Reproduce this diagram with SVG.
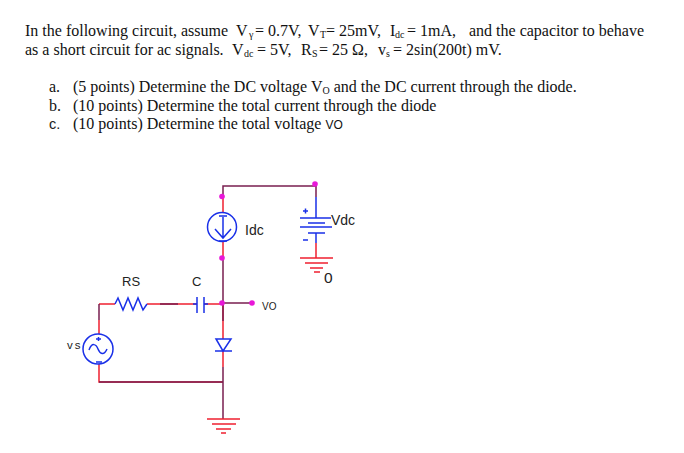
<svg xmlns="http://www.w3.org/2000/svg" width="684" height="453" viewBox="0 0 684 453">
<style>
.t{font-family:"Liberation Serif",serif;font-size:16px;fill:#111}
.s{font-size:10px}
.a{font-family:"Liberation Sans",sans-serif;fill:#222}
.w,.r,.b{fill:none;stroke-width:1.5}
.w{stroke:#7a1f50}.r{stroke:#f02030}.b{stroke:#1a30e8}
.d{fill:#e818d8}
</style>
<rect width="684" height="453" fill="#fff"/>
<g id="text">
<text class="t" x="25" y="36">In the following circuit, assume</text>
<text class="t" x="236" y="36">V</text><text class="t s" x="249" y="38">γ</text><text class="t" x="255" y="36">= 0.7V,</text>
<text class="t" x="308" y="36">V</text><text class="t s" x="320" y="38">T</text><text class="t" x="326" y="36">= 25mV,</text>
<text class="t" x="390" y="36">I</text><text class="t s" x="395" y="38">dc</text><text class="t" x="407" y="36">= 1mA,</text>
<text class="t" x="469" y="36">and the capacitor to behave</text>
<text class="t" x="25" y="55">as a short circuit for ac signals.</text>
<text class="t" x="232" y="55">V</text><text class="t s" x="244" y="57">dc</text><text class="t" x="257" y="55">= 5V,</text>
<text class="t" x="301" y="55">R</text><text class="t s" x="312" y="57">S</text><text class="t" x="319" y="55">= 25 Ω,</text>
<text class="t" x="378" y="55">v</text><text class="t s" x="386" y="57">s</text><text class="t" x="393" y="55">= 2sin(200t) mV.</text>
<text class="t" x="49" y="92">a.</text>
<text class="t" x="73" y="92">(5 points) Determine the DC voltage V<tspan class="s" dy="2">O</tspan><tspan dy="-2"> and the DC current through the diode.</tspan></text>
<text class="t" x="49" y="111">b.</text>
<text class="t" x="73" y="111">(10 points) Determine the total current through the diode</text>
<text class="a" x="49" y="129" font-size="14.500">c.</text>
<text class="t" x="73" y="129">(10 points) Determine the total voltage <tspan font-family="Liberation Sans" font-size="12">VO</tspan></text>
</g>
<g id="connectors">
<path class="w" d="M223 196V186H316V197"/>
<path class="r" d="M223 197V212M223 242V258"/>
<path class="r" d="M223 303V339M223 351V367M99 320V334M99 364V382H223M99 304H115M147 304H197M204 304H223M316 243V258"/>
<path class="w" d="M223 258V303M223 303H252M223 303V321M223 367V419M99 382H223M99 304V320M160 304H178"/>
<path class="b" d="M316 197V218M316 233V243"/>
</g>
<g id="Idc">
<circle class="b" cx="222" cy="227" r="14.500"/>
<path class="b" d="M223 217V238M215 229L223 238L231 229M219 216H227M219 241H227"/>
<text class="a" x="245" y="235" font-size="14">Idc</text>
</g>
<g id="Vdc">
<path class="b" d="M300 218H331M308 223H325M300 227H332M308 233H325M303 211H308M305.500 208.500V213.500M303 240H308"/>
<text class="a" x="331" y="225" font-size="14">Vdc</text>
</g>
<g id="ground-0">
<path class="r" d="M300 258H333M305 263H328M310 268H323M314 272H320"/>
<text class="a" x="324" y="283" font-size="15.500">0</text>
</g>
<g id="RS">
<path class="b" d="M115 304L118 298L123 310L128 298L133 310L138 298L143 310L147 304"/>
<text class="a" x="122" y="286" font-size="13">RS</text>
</g>
<g id="C">
<path class="b" d="M197 297V313M204 297V313M193 304H197M204 304H208"/>
<text class="a" x="192" y="286" font-size="13">C</text>
</g>
<g id="vs">
<circle class="b" cx="98" cy="349" r="15"/>
<path class="b" d="M89 350C92 342 96 344 98 349S104 356 107 349M96 339H101M98.500 337V341M96 362H102"/>
<text class="a" x="67" y="349" font-size="11.500" letter-spacing="2">vs</text>
</g>
<g id="diode">
<path class="b" d="M216 339H231L223 351ZM215 351H232"/>
</g>
<g id="ground">
<path class="r" d="M207 419H240M212 424H236M216 429H231M221 433H226"/>
</g>
<g id="vo">
<text class="a" x="262" y="310" font-size="10">VO</text>
</g>
<g id="dots">
<circle class="d" cx="315" cy="184" r="2.800"/>
<circle class="d" cx="222" cy="196.500" r="2.800"/>
<circle class="d" cx="222" cy="258" r="2.800"/>
<circle class="d" cx="222" cy="303" r="2.800"/>
<circle class="d" cx="252" cy="303" r="2.800"/>
</g>
</svg>
